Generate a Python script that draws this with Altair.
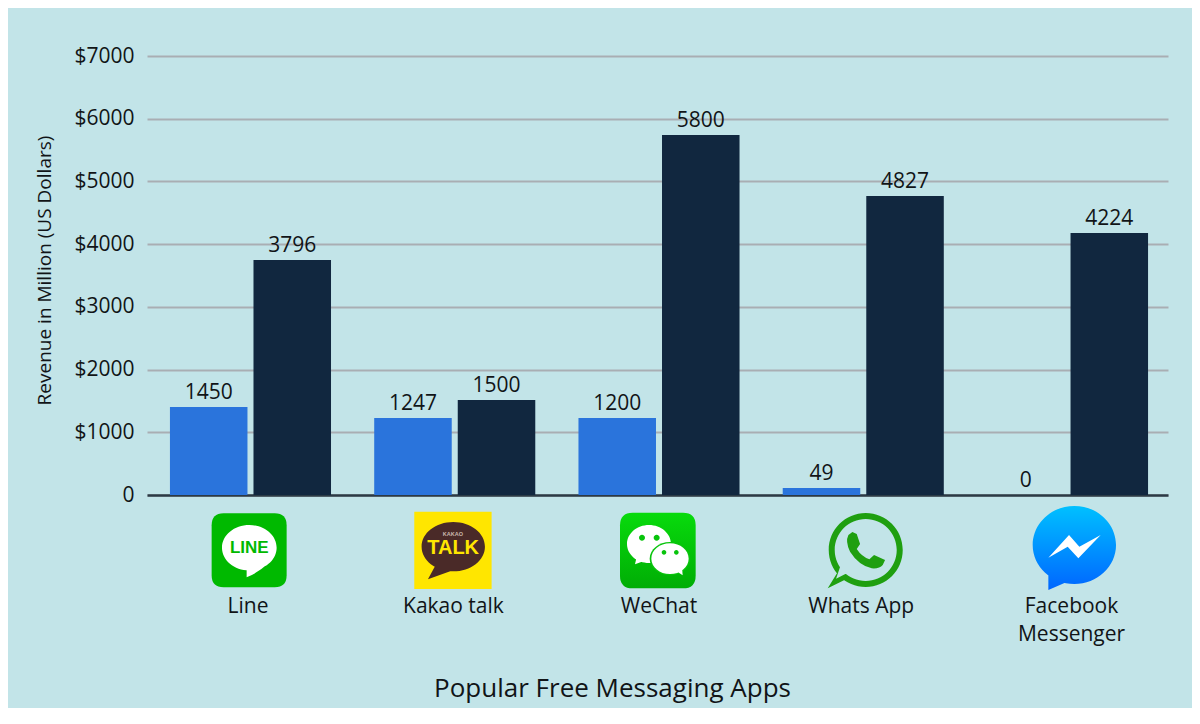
import re
import altair as alt
import pandas as pd

# ---- chart values ----
apps = ["Line", "Kakao talk", "WeChat", "Whats App", "Facebook Messenger"]
series_a_heights = [1403, 1228, 1228, 112, 0]
series_b_heights = [3747, 1515, 5740, 4768, 4178]
series_a_labels = ["1450", "1247", "1200", "49", "0"]
series_b_labels = ["3796", "1500", "5800", "4827", "4224"]
y_ticks = [0, 1000, 2000, 3000, 4000, 5000, 6000, 7000]
cat_label_text = ["Line", "Kakao talk", "WeChat", "Whats App", "Facebook\nMessenger"]
cat_label_shift = [-2.5, -1.3, 0, -2, 4]

BG = "#c2e4e8"
BLUE = "#2a74dc"
DARK = "#11273f"
FONT = "Open Sans"
TXT = "#111417"
PLOT_L, PLOT_T, PLOT_W, PLOT_H = 147, 56, 1021, 439

rows = []
for i, app in enumerate(apps):
    rows.append({"app": app, "s": "a", "v": series_a_heights[i], "t": series_a_labels[i]})
    rows.append({"app": app, "s": "b", "v": series_b_heights[i], "t": series_b_labels[i]})
df = pd.DataFrame(rows)

x_enc = alt.X("app:N", sort=apps, title="Popular Free Messaging Apps",
              scale=alt.Scale(domain=apps, paddingInner=0.2115, paddingOuter=0.105, align=0.535),
              axis=alt.Axis(labels=False, ticks=False, domainColor="#2b3a45", domainWidth=2.5,
                            titleFont=FONT, titleFontSize=26, titleFontWeight="normal", titleColor=TXT,
                            titleX=612 - PLOT_L, titleY=688 - 495, titleBaseline="middle", titleAlign="center"))
xo_enc = alt.XOffset("s:N", scale=alt.Scale(domain=["a", "b"], paddingInner=0.072))
y_enc = alt.Y("v:Q", scale=alt.Scale(domain=[0, 7000], nice=False),
              title="Revenue in Million (US Dollars)",
              axis=alt.Axis(values=y_ticks, domain=False, ticks=False, gridColor="#a9aeb3", gridWidth=2,
                            labelFont=FONT, labelFontSize=21, labelColor=TXT, labelPadding=13,
                            labelExpr="datum.value == 0 ? '0' : '$' + datum.value",
                            titleFont=FONT, titleFontSize=19, titleFontWeight="normal", titleColor=TXT,
                            titleX=44 - PLOT_L, titleY=270 - PLOT_T, titleBaseline="middle", titleAlign="center"))

bars = alt.Chart(df).mark_bar().encode(
    x=x_enc, xOffset=xo_enc, y=y_enc,
    color=alt.Color("s:N", scale=alt.Scale(domain=["a", "b"], range=[BLUE, DARK]), legend=None),
)
value_text = alt.Chart(df).mark_text(font=FONT, fontSize=21, color=TXT, baseline="bottom", dy=-4).encode(
    x=alt.X("app:N", sort=apps), xOffset=xo_enc, y=alt.Y("v:Q"), text="t:N",
)

layers = [bars, value_text]


# ---- category captions ----
for app, text, shift in zip(apps, cat_label_text, cat_label_shift):
    layers.append(
        alt.Chart(alt.Data(values=[{"app": app, "t": text}]))
        .mark_text(font=FONT, fontSize=21, color=TXT, baseline="alphabetic", dx=shift,
                   lineBreak="\n", lineHeight=28)
        .encode(x=alt.X("app:N", sort=apps), y=alt.value(613 - PLOT_T), text="t:N")
    )


# ---- decorative app icons as symbol shapes ----
UNIT = 50.0


def to_unit(cmd, zoom_origin, anchor):
    """Turn a path in 3x-zoom pixel coordinates into the symbol's unit box."""
    ox, oy = zoom_origin
    ax, ay = anchor
    parts = re.findall(r"[A-Za-z]|-?[\d.]+", cmd)
    out, is_x = [], True
    for p in parts:
        if p.isalpha():
            out.append(p)
            is_x = True
        else:
            v = float(p)
            out.append(f"{((ox + v / 3) - ax if is_x else (oy + v / 3) - ay) / UNIT:.4f}")
            is_x = not is_x
    return " ".join(out)


def ell(cx, cy, rx, ry):
    k = 0.5523
    return (f"M {cx - rx} {cy} C {cx - rx} {cy - k * ry} {cx - k * rx} {cy - ry} {cx} {cy - ry} "
            f"C {cx + k * rx} {cy - ry} {cx + rx} {cy - k * ry} {cx + rx} {cy} "
            f"C {cx + rx} {cy + k * ry} {cx + k * rx} {cy + ry} {cx} {cy + ry} "
            f"C {cx - k * rx} {cy + ry} {cx - rx} {cy + k * ry} {cx - rx} {cy} Z ")


def rrect(x0, y0, x1, y1, r):
    return (f"M {x0 + r} {y0} L {x1 - r} {y0} Q {x1} {y0} {x1} {y0 + r} L {x1} {y1 - r} "
            f"Q {x1} {y1} {x1 - r} {y1} L {x0 + r} {y1} Q {x0} {y1} {x0} {y1 - r} "
            f"L {x0} {y0 + r} Q {x0} {y0} {x0 + r} {y0} Z ")


def icon(app, cmd, fill, zoom_origin, anchor, band_center):
    return (
        alt.Chart(alt.Data(values=[{"app": app}]))
        .mark_point(shape=to_unit(cmd, zoom_origin, anchor), size=(2 * UNIT) ** 2, filled=True,
                    fill=fill, opacity=1, strokeWidth=0, xOffset=anchor[0] - band_center)
        .encode(x=alt.X("app:N", sort=apps), y=alt.value(anchor[1] - PLOT_T))
    )


def icon_text(app, text, x, y, size, color, band_center, weight="bold"):
    return (
        alt.Chart(alt.Data(values=[{"app": app, "t": text}]))
        .mark_text(font="Liberation Sans", fontSize=size, fontWeight=weight, color=color,
                   baseline="middle", dx=x - band_center)
        .encode(x=alt.X("app:N", sort=apps), y=alt.value(y - PLOT_T), text="t:N")
    )


def vgrad(top, bottom):
    return alt.LinearGradient(gradient="linear",
                              stops=[alt.GradientStop(color=top, offset=0),
                                     alt.GradientStop(color=bottom, offset=1)],
                              x1=0, x2=0, y1=0, y2=1)


centers = [250.5, 454.8, 659.0, 863.2, 1067.5]

# Line
o, a, c = (190, 500), (249, 550), centers[0]
layers.append(icon("Line", rrect(65, 40, 290, 262, 36), "#00b900", o, a, c))
layers.append(icon("Line", ell(178, 143, 82, 68) + "M 170 200 L 235 190 Q 205 218 170 232 Z", "#ffffff", o, a, c))
layers.append(icon_text("Line", "LINE", 249.3, 548, 17, "#00b900", c))

# Kakao
o, a, c = (190, 500), (453, 550), centers[1]
layers.append(icon("Kakao talk", "M 673 35 L 905 35 L 905 267 L 673 267 Z", "#ffe600", o, a, c))
layers.append(icon("Kakao talk", ell(790, 140, 95, 74) + "M 740 190 L 785 212 L 714 238 Z", "#4a2a28", o, a, c))
layers.append(icon_text("Kakao talk", "KAKAO", 453, 533.7, 5.5, "#c9b8ae", c))
layers.append(icon_text("Kakao talk", "TALK", 453.2, 547.5, 20, "#ffe600", c))

# WeChat
o, a, c = (600, 500), (658, 550), centers[2]
layers.append(icon("WeChat", rrect(60, 38, 287, 265, 38), vgrad("#08db0c", "#00ad05"), o, a, c))
layers.append(icon("WeChat", ell(147, 132, 66, 57) + "M 110 170 L 140 180 L 105 193 Z", "#ffffff", o, a, c))
layers.append(icon("WeChat", ell(126, 113, 9, 9) + ell(170, 113, 9, 9), "#08c40c", o, a, c))
layers.append(icon("WeChat", ell(210, 176, 61, 50), "#08c40c", o, a, c))
layers.append(icon("WeChat", ell(210, 176, 56, 46) + "M 232 215 L 246 200 L 248 226 Z", "#ffffff", o, a, c))
layers.append(icon("WeChat", ell(192, 157, 7, 7) + ell(229, 157, 7, 7), "#08c40c", o, a, c))

# WhatsApp
o, a, c = (600, 500), (866, 550), centers[3]
WA = "#1f9f10"
layers.append(icon("Whats App", ell(797, 150, 111, 111) + "M 720 205 L 750 232 L 683 265 Z", WA, o, a, c))
layers.append(icon("Whats App", ell(797, 150, 93, 93) + "M 722 195 L 752 214 L 708 236 Z", BG, o, a, c))
layers.append(icon("Whats App",
                   "M 757 96 L 770 102 L 780 132 L 770 147 Q 785 170 808 178 L 822 165 L 855 180 "
                   "L 848 195 Q 838 207 815 205 Q 775 195 750 155 Q 735 125 745 105 Z",
                   WA, o, a, c))

# Messenger
o, a, c = (1000, 490), (1074, 545), centers[4]
layers.append(icon("Facebook Messenger", ell(223, 165, 125, 117) + "M 145 250 L 195 278 L 145 300 Z",
                   vgrad("#00c0ff", "#0066ff"), o, a, c))
layers.append(icon("Facebook Messenger",
                   "M 145 203 L 207 135 L 238 170 L 302 135 L 235 205 L 203 170 Z", "#ffffff", o, a, c))

chart = (
    alt.layer(*layers)
    .properties(
        width=PLOT_W, height=PLOT_H, background=BG,
        autosize=alt.AutoSizeParams(type="none"),
        padding={"left": PLOT_L - 8, "top": PLOT_T - 8, "right": 24, "bottom": 213},
    )
    .configure_view(stroke=None)
)

chart.save("out.html", embed_options={"renderer": "svg", "actions": False})
